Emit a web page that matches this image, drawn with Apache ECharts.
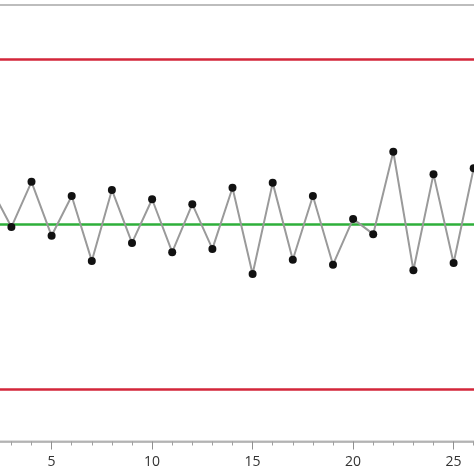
<!DOCTYPE html>
<html>
<head>
<meta charset="utf-8">
<script src="https://cdn.jsdelivr.net/npm/echarts@6/dist/echarts.min.js"></script>
<style>
html,body{margin:0;padding:0;background:#fff;}
#chart{width:474px;height:474px;}
</style>
</head>
<body>
<div id="chart"></div>
<script>
// Sample numbers (samples 2..26 visible in the cropped view)
const samples = [2,3,4,5,6,7,8,9,10,11,12,13,14,15,16,17,18,19,20,21,22,23,24,25,26];
const values  = [10.63,9.93,10.76,9.77,10.50,9.31,10.61,9.64,10.44,9.47,10.35,9.53,10.65,9.07,10.74,9.33,10.50,9.24,10.08,9.80,11.31,9.14,10.90,9.27,11.01];
const centerLine = 9.98;
const upperLimit = 13.0;
const lowerLimit = 6.96;
const xTicks = [5,10,15,20,25];

const chart = echarts.init(document.getElementById('chart'), null, {renderer:'canvas'});
chart.setOption({
  animation:false,
  backgroundColor:'#fff',
  grid:{left:-48.9, right:-19.8, top:5, bottom:32.5, outerBoundsMode:'none', containLabel:false,
        show:true, borderColor:'#bdbdbd', borderWidth:2},
  xAxis:{
    type:'value', min:0, max:27, interval:5,
    axisLine:{show:true, lineStyle:{color:'#b0b0b0', width:1.5}},
    axisTick:{show:true, length:8, lineStyle:{color:'#8f8f8f', width:1}},
    minorTick:{show:true, splitNumber:5, length:4, lineStyle:{color:'#9f9f9f', width:1}},
    splitLine:{show:false},
    axisLabel:{show:true, margin:14, fontSize:14, color:'#333', fontFamily:'Open Sans',
      formatter:function(v){return xTicks.indexOf(v)>=0 ? String(v) : '';}}
  },
  yAxis:{
    type:'value', min:6, max:14, show:false, splitLine:{show:false}
  },
  series:[{
    type:'line',
    data:samples.map((s,i)=>[s,values[i]]),
    symbol:'circle', symbolSize:8,
    itemStyle:{color:'#111'},
    lineStyle:{color:'#9a9a9a', width:2},
    z:5,
    markLine:{
      silent:true, symbol:'none', label:{show:false},
      data:[
        {yAxis:upperLimit, lineStyle:{color:'#d3263a', width:2.5, type:'solid'}},
        {yAxis:centerLine, lineStyle:{color:'#2eaf3a', width:2.5, type:'solid'}},
        {yAxis:lowerLimit, lineStyle:{color:'#d3263a', width:2.5, type:'solid'}}
      ]
    }
  }]
});
</script>
</body>
</html>
